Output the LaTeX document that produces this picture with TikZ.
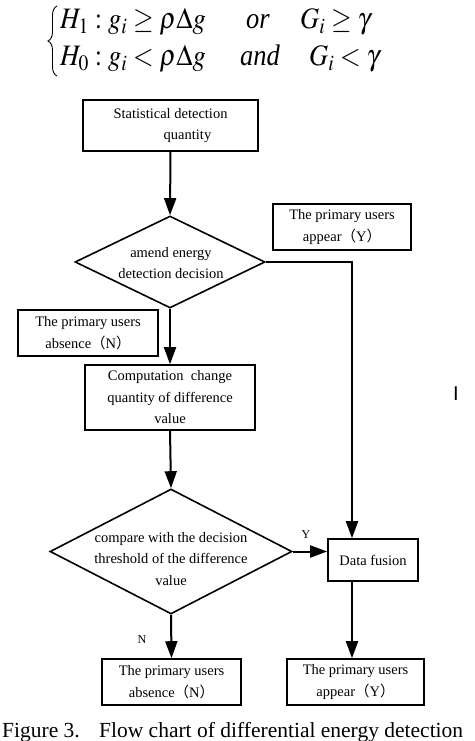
\documentclass[tikz,border=0pt]{standalone}
\usepackage{mathptmx}
\usepackage{fontspec}
\setmainfont{Liberation Serif}
\newfontfamily\cjk{Noto Sans CJK SC}
\newfontfamily\sansI{Liberation Sans}
\usetikzlibrary{arrows.meta,shapes.geometric,decorations.pathreplacing}
\newcommand{\lp}{{\cjk （}}
\newcommand{\rp}{{\cjk ）}}
\newcommand{\tallq}[1]{\scalebox{1}[1.12]{#1}}
\begin{document}
\begin{tikzpicture}[x=1pt,y=-1pt,
  boxtxt/.style={font=\fontsize{14.5}{21.5}\selectfont, align=center},
  flowbox/.style={draw, line width=1.6pt, inner sep=0pt, boxtxt},
  dia/.style={draw, line width=1.6pt, shape=diamond, inner sep=0pt},
  arr/.style={line width=2pt, -{Triangle[length=17pt,width=12pt]}},
  eq/.style={font=\fontsize{26.5}{26.5}\selectfont, inner sep=0pt, anchor=base west},
  eqw/.style={font=\fontsize{26.5}{26.5}\selectfont\itshape, inner sep=0pt, anchor=base},
  lbl/.style={font=\fontsize{12}{12}\selectfont, inner sep=0pt}
]
\useasboundingbox (0,0) rectangle (474,741);

% formula
\draw[line width=0.9pt, decorate, decoration={brace, amplitude=9pt}] (57,76) -- (57,6);
\node[eq] (h1) at (60,29) {\tallq{$H_1: g_i \ge \rho\Delta g$}};
\node[eqw] (or) at (258,29) {\tallq{or}};
\node[eq] (g1) at (300,29) {\tallq{$G_i \ge \gamma$}};
\node[eq] (h0) at (60,66) {\tallq{$H_0: g_i < \rho\Delta g$}};
\node[eqw] (and) at (260,66) {\tallq{and}};
\node[eq] (g0) at (309,66) {\tallq{$G_i < \gamma$}};

% nodes
\node[flowbox, minimum width=175pt, minimum height=51pt] (b1) at (170.5,125.5)
  {Statistical detection\\\hspace*{34pt}quantity};
\node[dia, minimum width=190pt, minimum height=92pt] (d1) at (170,262) {};
\node[boxtxt] (d1t) at (171,263) {amend energy\\detection decision};
\node[flowbox, minimum width=138pt, minimum height=46pt] (ly) at (342,227)
  {The primary users\\appear\lp Y\rp};
\node[flowbox, minimum width=140pt, minimum height=46pt] (ln) at (88,333)
  {The primary users\\absence\lp N\rp};
\node[flowbox, minimum width=170pt, minimum height=65pt] (b2) at (170,397.5)
  {Computation\ \ change\\quantity of difference\\value};
\node[dia, minimum width=242pt, minimum height=125pt] (d2) at (171,551.5) {};
\node[boxtxt] (d2t) at (171,559) {compare with the decision\\threshold of the difference\\value};
\node[flowbox, minimum width=90pt, minimum height=42pt] (df) at (373,560) {Data fusion};
\node[flowbox, minimum width=139pt, minimum height=46pt] (fl) at (171.5,682)
  {The primary users\\absence\lp N\rp};
\node[flowbox, minimum width=137pt, minimum height=46pt] (fr) at (355.5,682)
  {The primary users\\appear\lp Y\rp};
\coordinate (c1) at (352,262);

% labels
\node[lbl] (ylab) at (306,535) {Y};
\node[lbl] (nlab) at (142,640) {N};
\node[font=\sansI\fontsize{20}{20}\selectfont, inner sep=0pt] (bar) at (456,393.5) {I};

% connectors
\draw[arr] (b1.south) -- (d1.north);
\draw[arr] (d1.south) -- (b2.north);
\draw[arr] (b2.south) -- (d2.north);
\draw[arr] (d2.south) -- (fl.north);
\draw[arr] (d2.east) -- (d2.east -| df.west);
\draw[arr] (d1.east) -- (c1) -- (c1 |- df.north);
\draw[arr] (c1 |- df.south) -- (c1 |- fr.north);

% caption
\node[font=\fontsize{21.5}{21.5}\selectfont, inner sep=0pt, anchor=base west] (cap) at (2,737)
  {Figure 3.\hspace{0.9em}Flow chart of differential energy detection};
\end{tikzpicture}
\end{document}
